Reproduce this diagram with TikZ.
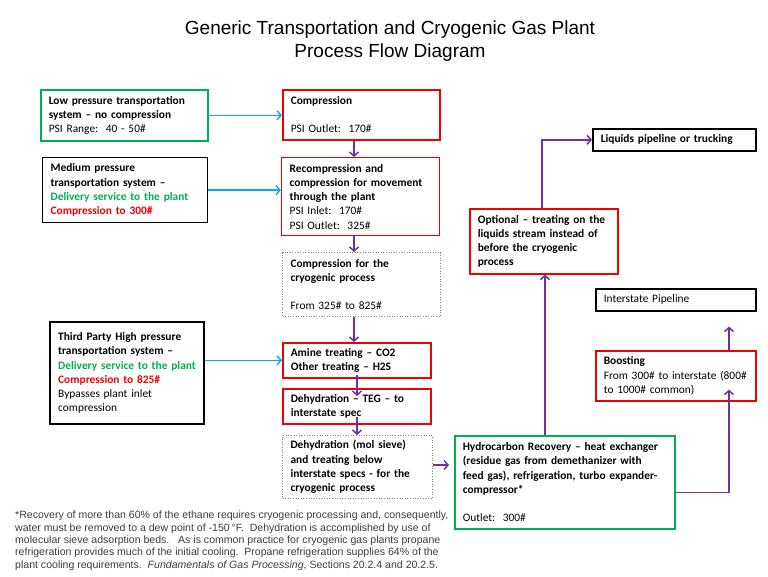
\documentclass[tikz,border=0pt]{standalone}
\usepackage{fontspec}
\setmainfont{Carlito}
\newfontfamily\helv{Liberation Sans}
\usetikzlibrary{arrows.meta}
\definecolor{pgreen}{RGB}{0,176,80}
\definecolor{pred}{RGB}{240,0,0}
\definecolor{pblue}{RGB}{0,176,240}
\definecolor{ppurple}{RGB}{112,48,160}
\definecolor{fgray}{RGB}{60,60,60}
\tikzset{
  procbox/.style={draw, line width=1.6pt, anchor=north west, align=left, inner xsep=8pt, inner ysep=2pt,
    font=\fontsize{11.4}{14.2}\selectfont},
  redbox/.style={procbox, draw=pred},
  greenbox/.style={procbox, draw=pgreen},
  blackbox/.style={procbox, draw=black},
  dotbox/.style={procbox, draw=gray, line width=1pt, dash pattern=on 1pt off 1.6pt},
  bsize/.style n args={3}{minimum width=#1pt, text width=#2pt, minimum height=#3pt},
  bluearrow/.style={draw=pblue, line width=1.4pt, -{Straight Barb[length=4pt,width=9pt,line width=1.4pt]}},
  purplearrow/.style={draw=ppurple, line width=1.5pt, -{Straight Barb[length=4pt,width=9pt,line width=1.5pt]}},
}
\begin{document}
\begin{tikzpicture}[x=1pt,y=-1pt]
\useasboundingbox (0,0) rectangle (768,576);
% title
\node[font=\helv\fontsize{19}{23}\selectfont, align=center] (title) at (390,41) {Generic Transportation and Cryogenic Gas Plant\\Process Flow Diagram};
% boxes
\node[greenbox, bsize={167}{151}{51}] (low) at (40,89) {\textbf{Low pressure transportation}\\\textbf{system -- no compression}\\PSI Range:\ \ 40 - 50\#};
\node[redbox, bsize={157}{141}{50}] (comp) at (282,89) {\textbf{Compression}\\\mbox{}\\PSI Outlet:\ \ 170\#};
\node[blackbox, line width=1.2pt, bsize={165}{149}{65}] (med) at (42,157) {\textbf{Medium pressure}\\\textbf{transportation system --}\\\textcolor{pgreen}{\textbf{Delivery service to the plant}}\\\textcolor{pred}{\textbf{Compression to 300\#}}};
\node[redbox, line width=1.3pt, bsize={158}{142}{78}] (recomp) at (281,157) {\textbf{Recompression and}\\\textbf{compression for movement}\\\textbf{through the plant}\\PSI Inlet:\ \ 170\#\\PSI Outlet:\ \ 325\#};
\node[dotbox, bsize={158}{142}{64}] (cryo) at (282,252) {\textbf{Compression for the}\\\textbf{cryogenic process}\\\mbox{}\\From 325\# to 825\#};
\node[blackbox, line width=2.4pt, bsize={154}{138}{102}] (third) at (49,321) {\textbf{Third Party High pressure}\\\textbf{transportation system --}\\\textcolor{pgreen}{\textbf{Delivery service to the plant}}\\\textcolor{pred}{\textbf{Compression to 825\#}}\\Bypasses plant inlet\\compression};
\node[redbox, bsize={148}{132}{35}] (amine) at (282,342) {\textbf{Amine treating -- CO2}\\\textbf{Other treating -- H2S}};
\node[redbox, bsize={148}{132}{35}] (teg) at (282,388) {\textbf{Dehydration -- TEG -- to}\\\textbf{interstate spec}};
\node[dotbox, bsize={150}{134}{63}] (molsieve) at (282,435) {\textbf{Dehydration (mol sieve)}\\\textbf{and treating below}\\\textbf{interstate specs - for the}\\\textbf{cryogenic process}};
\node[greenbox, bsize={220}{204}{93}] (hc) at (454,435) {\textbf{Hydrocarbon Recovery -- heat exchanger}\\\textbf{(residue gas from demethanizer with}\\\textbf{feed gas), refrigeration, turbo expander-}\\\textbf{compressor*}\\\mbox{}\\Outlet:\ \ 300\#};
\node[redbox, bsize={148}{132}{65}] (opt) at (469,208) {\textbf{Optional -- treating on the}\\\textbf{liquids stream instead of}\\\textbf{before the cryogenic}\\\textbf{process}};
\node[blackbox, bsize={163}{147}{22}] (liquids) at (592,128) {\textbf{Liquids pipeline or trucking}};
\node[blackbox, bsize={160}{144}{22}] (inter) at (595,288) {Interstate Pipeline};
\node[redbox, bsize={160}{144}{50}] (boost) at (595,350) {\textbf{Boosting}\\From 300\# to interstate (800\#\\to 1000\# common)};
% footnote
\node[anchor=north west, align=left, inner sep=0pt, text=fgray, font=\helv\fontsize{10.55}{12.3}\selectfont] (note) at (15,511) {*Recovery of more than 60\% of the ethane requires cryogenic processing and, consequently,\\water must be removed to a dew point of -150\,°F.\ \ Dehydration is accomplished by use of\\molecular sieve adsorption beds.\ \ \ As is common practice for cryogenic gas plants propane\\refrigeration provides much of the initial cooling.\ \ Propane refrigeration supplies 64\% of the\\plant cooling requirements.\ \ \textit{Fundamentals of Gas Processing}, Sections 20.2.4 and 20.2.5.};
% helper coordinates
\coordinate (sp) at (354,0);
\coordinate (sq) at (357,0);
\coordinate (hx) at (545,0);
\coordinate (bx) at (729,0);
% blue arrows
\draw[bluearrow] (low.east) -- (low.east -| comp.west);
\draw[bluearrow] (med.east) -- (med.east -| recomp.west);
\draw[bluearrow] (amine.west -| third.east) -- (amine.west);
% purple arrows
\draw[purplearrow] (comp.south -| sp) -- (recomp.north -| sp);
\draw[purplearrow] (recomp.south -| sp) -- (cryo.north -| sp);
\draw[purplearrow] (cryo.south -| sp) -- (amine.north -| sp);
\draw[purplearrow] ([yshift=4pt]amine.south -| sq) -- ([yshift=-8pt]teg.north -| sq);
\draw[purplearrow] ([yshift=8pt]teg.south -| sq) -- (molsieve.north -| sq);
\draw[purplearrow] ([yshift=2pt]molsieve.east) -- ([xshift=-5pt,yshift=2pt]molsieve.east -| hc.west);
\draw[purplearrow] (hc.north -| hx) -- (opt.south -| hx);
\draw[purplearrow] ([xshift=-2pt]opt.north) |- (liquids.west);
\draw[purplearrow] ([yshift=-10pt]hc.east) -| ([yshift=12pt]boost.south -| bx);
\draw[purplearrow] (boost.north -| bx) -- ([yshift=-15pt]inter.south -| bx);
\end{tikzpicture}
\end{document}
